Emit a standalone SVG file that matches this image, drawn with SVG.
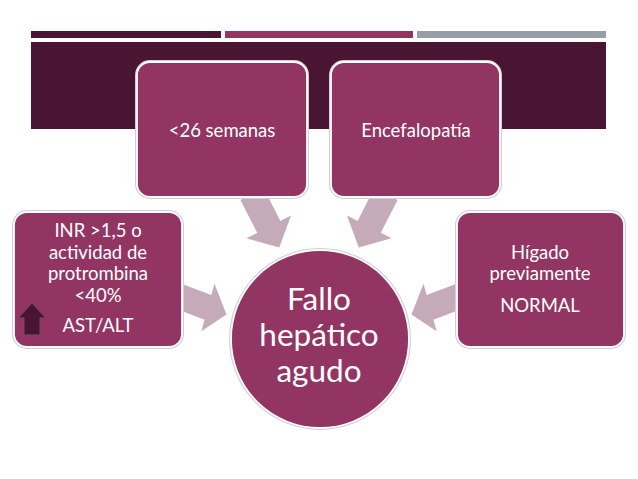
<svg xmlns="http://www.w3.org/2000/svg" width="638" height="479" viewBox="0 0 638 479">
<style>
  .box{fill:#933562;stroke:#ffffff;stroke-width:1.8}
  .halo{fill:none;stroke:#d6ccd2;stroke-width:4}
  .t{fill:#ffffff;font-family:Lato,"Open Sans","Liberation Sans",sans-serif;text-anchor:middle}
  .s{font-size:18.5px}
  .b{font-size:31.5px}
  .arr{fill:#c5abba}
</style>
<defs>
  <polygon id="ar" points="0,-13 37,-13 37,-25 60,0 37,25 37,13 0,13"/>
</defs>
<rect x="31" y="31" width="190" height="7" fill="#4a1532"/>
<rect x="225" y="31" width="188" height="7" fill="#93365f"/>
<rect x="417" y="31" width="189" height="7" fill="#969ea6"/>
<rect x="31" y="42" width="575" height="87" fill="#4a1532"/>
<g id="connectors">
  <use href="#ar" class="arr" transform="translate(252,194) rotate(63)"/>
  <use href="#ar" class="arr" transform="translate(386,194) rotate(117)"/>
  <use href="#ar" class="arr" transform="translate(178,296) scale(0.85,1) rotate(18)"/>
  <use href="#ar" class="arr" transform="translate(460,296) scale(-0.85,1) rotate(18)"/>
</g>
<g id="n1">
  <rect class="halo" x="137" y="62" width="170" height="135" rx="13"/>
  <rect class="box" x="137" y="62" width="170" height="135" rx="13"/>
  <text class="t s" x="222" y="137">&lt;26 semanas</text>
</g>
<g id="n2">
  <rect class="halo" x="331" y="62" width="169" height="135" rx="13"/>
  <rect class="box" x="331" y="62" width="169" height="135" rx="13"/>
  <text class="t s" x="416" y="137">Encefalopatía</text>
</g>
<g id="n3">
  <rect class="halo" x="14" y="212" width="168" height="135" rx="13"/>
  <rect class="box" x="14" y="212" width="168" height="135" rx="13"/>
  <text class="t s" x="98" y="237">INR &gt;1,5 o</text>
  <text class="t s" x="98" y="259">actividad de</text>
  <text class="t s" x="98" y="280">protrombina</text>
  <text class="t s" x="98" y="302">&lt;40%</text>
  <text class="t s" x="98" y="332">AST/ALT</text>
  <polygon points="32,303 46,318 40,318 40,335 24,335 24,318 18,318" fill="#4a1532" stroke="#7a4a63" stroke-width="1"/>
</g>
<g id="n4">
  <rect class="halo" x="457" y="212" width="167" height="135" rx="13"/>
  <rect class="box" x="457" y="212" width="167" height="135" rx="13"/>
  <text class="t s" x="540" y="259">Hígado</text>
  <text class="t s" x="540" y="280">previamente</text>
  <text class="t s" x="540" y="312">NORMAL</text>
</g>
<g id="n5">
  <circle cx="320" cy="339" r="89" fill="none" stroke="#d6ccd2" stroke-width="4"/>
  <circle cx="320" cy="339" r="89" class="box"/>
  <text class="t b" x="319" y="310">Fallo</text>
  <text class="t b" x="319" y="346">hepático</text>
  <text class="t b" x="319" y="382">agudo</text>
</g>
</svg>
